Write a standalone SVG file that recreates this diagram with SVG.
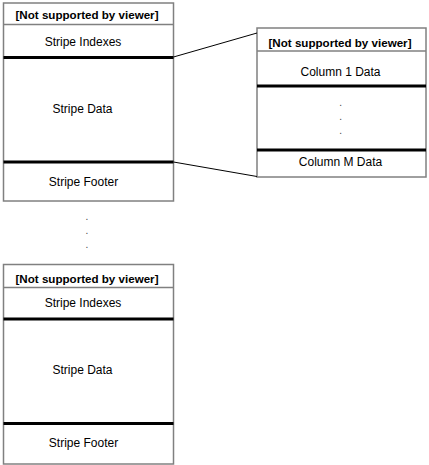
<svg xmlns="http://www.w3.org/2000/svg" width="429" height="465" viewBox="0 0 429 465">
<style>
.box{fill:#fff;stroke:#808080;stroke-width:1.5}
.sep{stroke:#808080;stroke-width:1.5}
.thick{stroke:#000;stroke-width:3}
.hdr{font-family:"Liberation Sans",Arial,sans-serif;font-size:11.6px;font-weight:bold;text-anchor:middle;fill:#000}
.lbl{font-family:"Liberation Sans",Arial,sans-serif;font-size:12px;text-anchor:middle;fill:#000}
.dot{font-family:"Liberation Sans",Arial,sans-serif;font-size:10px;text-anchor:middle;fill:#444}
.conn{stroke:#000;stroke-width:1;fill:none}
</style>
<rect width="429" height="465" fill="#fff"/>
<g id="stripe1">
<rect class="box" x="3.5" y="3" width="170" height="198"/>
<line class="sep" x1="3.5" y1="24.5" x2="173.5" y2="24.5"/>
<line class="thick" x1="3.5" y1="57.5" x2="173.5" y2="57.5"/>
<line class="thick" x1="3.5" y1="162" x2="173.5" y2="162"/>
<text class="hdr" x="87" y="19">[Not supported by viewer]</text>
<text class="lbl" x="83" y="45.5">Stripe Indexes</text>
<text class="lbl" x="82.5" y="112.5">Stripe Data</text>
<text class="lbl" x="83.5" y="185.5">Stripe Footer</text>
</g>
<g id="columns">
<rect class="box" x="257" y="28" width="169" height="149"/>
<line class="sep" x1="257" y1="51" x2="426" y2="51"/>
<line class="thick" x1="257" y1="86" x2="426" y2="86"/>
<line class="thick" x1="257" y1="150" x2="426" y2="150"/>
<text class="hdr" x="340" y="47">[Not supported by viewer]</text>
<text class="lbl" x="340.5" y="76">Column 1 Data</text>
<text class="dot" x="340.7" y="106">.</text>
<text class="dot" x="340.7" y="120">.</text>
<text class="dot" x="340.7" y="134">.</text>
<text class="lbl" x="340.5" y="166">Column M Data</text>
</g>
<g id="ellipsis">
<text class="dot" x="87" y="220">.</text>
<text class="dot" x="87" y="234">.</text>
<text class="dot" x="87" y="248">.</text>
</g>
<g id="stripeN">
<rect class="box" x="3.5" y="264.5" width="170" height="199.5"/>
<line class="sep" x1="3.5" y1="287.5" x2="173.5" y2="287.5"/>
<line class="thick" x1="3.5" y1="319" x2="173.5" y2="319"/>
<line class="thick" x1="3.5" y1="423.5" x2="173.5" y2="423.5"/>
<text class="hdr" x="87" y="283">[Not supported by viewer]</text>
<text class="lbl" x="83" y="307">Stripe Indexes</text>
<text class="lbl" x="82.5" y="374">Stripe Data</text>
<text class="lbl" x="83.5" y="446.5">Stripe Footer</text>
</g>
<g id="connectors">
<line class="conn" x1="173.5" y1="57" x2="257" y2="33"/>
<line class="conn" x1="173.5" y1="162" x2="257" y2="176.5"/>
</g>
</svg>
